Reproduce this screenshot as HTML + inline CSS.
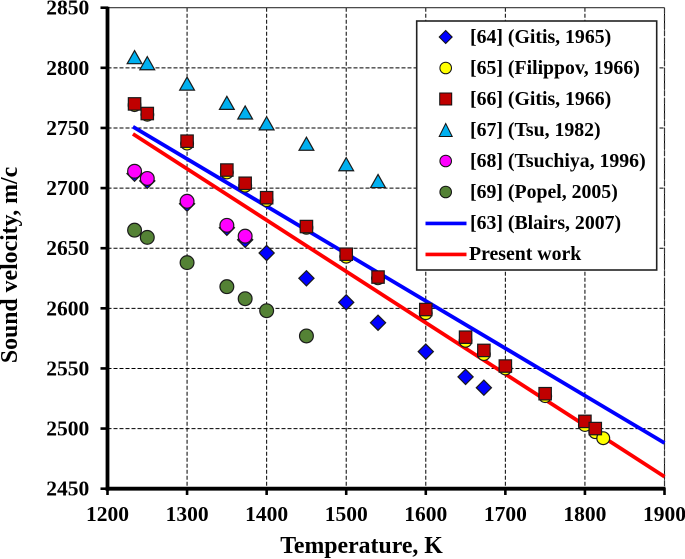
<!DOCTYPE html>
<html>
<head>
<meta charset="utf-8">
<style>
html,body{margin:0;padding:0;background:#fff;width:685px;height:559px;overflow:hidden}
svg{display:block}
text{font-family:"Liberation Serif",serif;font-weight:bold;fill:#000}
</style>
</head>
<body>
<svg id="chart" width="685" height="559" viewBox="0 0 685 559" xmlns="http://www.w3.org/2000/svg">
  <g id="grid"></g>
  <g id="axes"></g>
  <g id="lines"></g>
  <g id="marks"></g>
  <g id="legend">
    <rect x="416.7" y="21" width="240" height="249" fill="#fff" stroke="#222" stroke-width="1.6"/>
    <path d="M445.7 30.5 L452.2 37 L445.7 43.5 L439.2 37 Z" fill="#0000ff" stroke="#111" stroke-width="1"/>
    <circle cx="445.7" cy="68" r="5.8" fill="#ffff00" stroke="#111" stroke-width="1"/>
    <rect x="439.7" y="93" width="12" height="12" fill="#c00000" stroke="#111" stroke-width="1"/>
    <path d="M445.7 123.5 L452.2 136.5 L439.2 136.5 Z" fill="#00b0f0" stroke="#111" stroke-width="1"/>
    <circle cx="445.7" cy="161" r="5.8" fill="#ff00ff" stroke="#111" stroke-width="1"/>
    <circle cx="445.7" cy="192" r="5.8" fill="#548235" stroke="#111" stroke-width="1"/>
    <line x1="425.5" y1="223.4" x2="466.5" y2="223.4" stroke="#0000ff" stroke-width="3.6"/>
    <line x1="425.5" y1="254.4" x2="466.5" y2="254.4" stroke="#ff0000" stroke-width="3.6"/>
    <g font-size="19.8">
      <text x="470" y="43">[64] (Gitis, 1965)</text>
      <text x="470" y="74">[65] (Filippov, 1966)</text>
      <text x="470" y="105">[66] (Gitis, 1966)</text>
      <text x="470" y="136">[67] (Tsu, 1982)</text>
      <text x="470" y="167">[68] (Tsuchiya, 1996)</text>
      <text x="470" y="198">[69] (Popel, 2005)</text>
      <text x="470" y="229">[63] (Blairs, 2007)</text>
      <text x="469" y="260">Present work</text>
    </g>
  </g>
  <text x="361.5" y="553" font-size="23.8" text-anchor="middle">Temperature, K</text>
  <text transform="translate(17,265) rotate(-90)" font-size="23.8" text-anchor="middle">Sound velocity, m/c</text>
</svg>
<script>
const xTicks = [1200, 1300, 1400, 1500, 1600, 1700, 1800, 1900];
const yTicks = [2450, 2500, 2550, 2600, 2650, 2700, 2750, 2800, 2850];

const gitis1965T = [1234, 1250, 1300, 1350, 1373, 1400, 1450, 1500, 1540, 1600, 1650, 1673];
const gitis1965V = [2712, 2706, 2687, 2667, 2657, 2646, 2625, 2605, 2588, 2564, 2543, 2534];

const filippov1966T = [1234, 1250, 1300, 1350, 1373, 1400, 1450, 1500, 1540, 1600, 1650, 1673, 1700, 1750, 1800, 1813, 1823];
const filippov1966V = [2769, 2761, 2737, 2713, 2702, 2690, 2667, 2643, 2625, 2596, 2573, 2562, 2550, 2527, 2503, 2497, 2492];

const gitis1966T = [1234, 1250, 1300, 1350, 1373, 1400, 1450, 1500, 1540, 1600, 1650, 1673, 1700, 1750, 1800, 1813];
const gitis1966V = [2770, 2762, 2739, 2715, 2704, 2692, 2668, 2645, 2626, 2599, 2576, 2565, 2552, 2529, 2506, 2500];

const tsu1982T = [1234, 1250, 1300, 1350, 1373, 1400, 1450, 1500, 1540];
const tsu1982V = [2808, 2803, 2786, 2770, 2762, 2753, 2736, 2719, 2705];

const tsuchiya1996T = [1234, 1250, 1300, 1350, 1373];
const tsuchiya1996V = [2714, 2708, 2689, 2669, 2660];

const popel2005T = [1234, 1250, 1300, 1350, 1373, 1400, 1450];
const popel2005V = [2665, 2659, 2638, 2618, 2608, 2598, 2577];

const blairsT = [1232, 1900];
const blairsV = [2751, 2488];
const presentT = [1232, 1900];
const presentV = [2745, 2460];

const NS = 'http://www.w3.org/2000/svg';
function xScale(t) { return 107.5 + (t - 1200) * (664.5 - 107.5) / 700; }
function yScale(v) { return 488.7 - (v - 2450) * (488.7 - 7.7) / 400; }
function make(tag, attrs, parent) {
  const el = document.createElementNS(NS, tag);
  for (const k in attrs) el.setAttribute(k, attrs[k]);
  parent.appendChild(el);
  return el;
}

const grid = document.getElementById('grid');
const axes = document.getElementById('axes');
const linesG = document.getElementById('lines');
const marks = document.getElementById('marks');
const gridStyle = { stroke: '#000', 'stroke-width': 1, 'stroke-dasharray': '4 2', fill: 'none' };

xTicks.forEach(function (t) {
  const x = xScale(t);
  if (t > 1200) {
    const g = make('line', Object.assign({ x1: x, y1: yScale(2850), x2: x, y2: yScale(2450) }, gridStyle), grid);
    
    
  }
  const tick = make('line', { x1: x, y1: 488, x2: x, y2: 495, stroke: '#000', 'stroke-width': 2.6 }, axes);
  
  
  const lab = make('text', { x: x, y: 521, 'font-size': 21.5, 'text-anchor': 'middle' }, axes);
  lab.textContent = t;
  
  
});

yTicks.forEach(function (v) {
  const y = yScale(v);
  if (v > 2450 && v < 2850) {
    const g = make('line', Object.assign({ x1: xScale(1200), y1: y, x2: xScale(1900), y2: y }, gridStyle), grid);
    
    
  }
  const tick = make('line', { x1: 100.5, y1: y, x2: 108, y2: y, stroke: '#000', 'stroke-width': 2.6 }, axes);
  
  
  const lab = make('text', { x: 89.3, y: y + 7, 'font-size': 21.5, 'text-anchor': 'end' }, axes);
  lab.textContent = v;
  
  
});

const topEdge = make('line', { x1: xScale(1200), y1: yScale(2850), x2: xScale(1900), y2: yScale(2850), stroke: '#333', 'stroke-width': 1.2 }, axes);


const rightEdge = make('line', { x1: xScale(1900), y1: yScale(2850), x2: xScale(1900), y2: yScale(2450), stroke: '#333', 'stroke-width': 1.2, 'stroke-dasharray': '6 1.5' }, axes);


const yAxis = make('line', { x1: xScale(1200), y1: yScale(2850) - 1, x2: xScale(1200), y2: 490.7, stroke: '#000', 'stroke-width': 3.8 }, axes);


const xAxis = make('line', { x1: xScale(1200) - 1.9, y1: 488.7, x2: xScale(1900) + 1, y2: 488.7, stroke: '#000', 'stroke-width': 3.8 }, axes);



function drawLine(ts, vs, color, name) {
  const pts = ts.map(function (t, i) { return xScale(t) + ',' + yScale(vs[i]); }).join(' ');
  const l = make('polyline', { points: pts, fill: 'none', stroke: color, 'stroke-width': 3.8 }, linesG);
  
  
}
drawLine(blairsT, blairsV, '#0000ff', 'line-blairs-2007');
drawLine(presentT, presentV, '#ff0000', 'line-present-work');

const markStroke = { stroke: '#1a1a1a', 'stroke-width': 1.2 };
function drawDiamond(x, y, fill) {
  const r = 7.6;
  return make('path', Object.assign({ d: 'M' + x + ' ' + (y - r) + 'L' + (x + r) + ' ' + y + 'L' + x + ' ' + (y + r) + 'L' + (x - r) + ' ' + y + 'Z', fill: fill }, markStroke), marks);
}
function drawCircle(x, y, fill) {
  return make('circle', Object.assign({ cx: x, cy: y, r: 6.9, fill: fill }, markStroke), marks);
}
function drawSmallCircle(x, y, fill) {
  return make('circle', Object.assign({ cx: x, cy: y, r: 6.4, fill: fill }, markStroke), marks);
}
function drawSquare(x, y, fill) {
  return make('rect', Object.assign({ x: x - 6.2, y: y - 6.2, width: 12.4, height: 12.4, fill: fill }, markStroke), marks);
}
function drawTriangle(x, y, fill) {
  return make('path', Object.assign({ d: 'M' + x + ' ' + (y - 7.6) + 'L' + (x + 7.4) + ' ' + (y + 5.5) + 'L' + (x - 7.4) + ' ' + (y + 5.5) + 'Z', fill: fill }, markStroke), marks);
}
function drawSeries(ts, vs, shape, fill, name) {
  ts.forEach(function (t, i) {
    const m = shape(xScale(t), yScale(vs[i]), fill);
    
    
  });
}
drawSeries(gitis1965T, gitis1965V, drawDiamond, '#0000ff', 'point-gitis-1965');
drawSeries(filippov1966T, filippov1966V, drawSmallCircle, '#ffff00', 'point-filippov-1966');
drawSeries(gitis1966T, gitis1966V, drawSquare, '#c00000', 'point-gitis-1966');
drawSeries(tsu1982T, tsu1982V, drawTriangle, '#00b0f0', 'point-tsu-1982');
drawSeries(tsuchiya1996T, tsuchiya1996V, drawCircle, '#ff00ff', 'point-tsuchiya-1996');
drawSeries(popel2005T, popel2005V, drawCircle, '#548235', 'point-popel-2005');
</script>
</body>
</html>
